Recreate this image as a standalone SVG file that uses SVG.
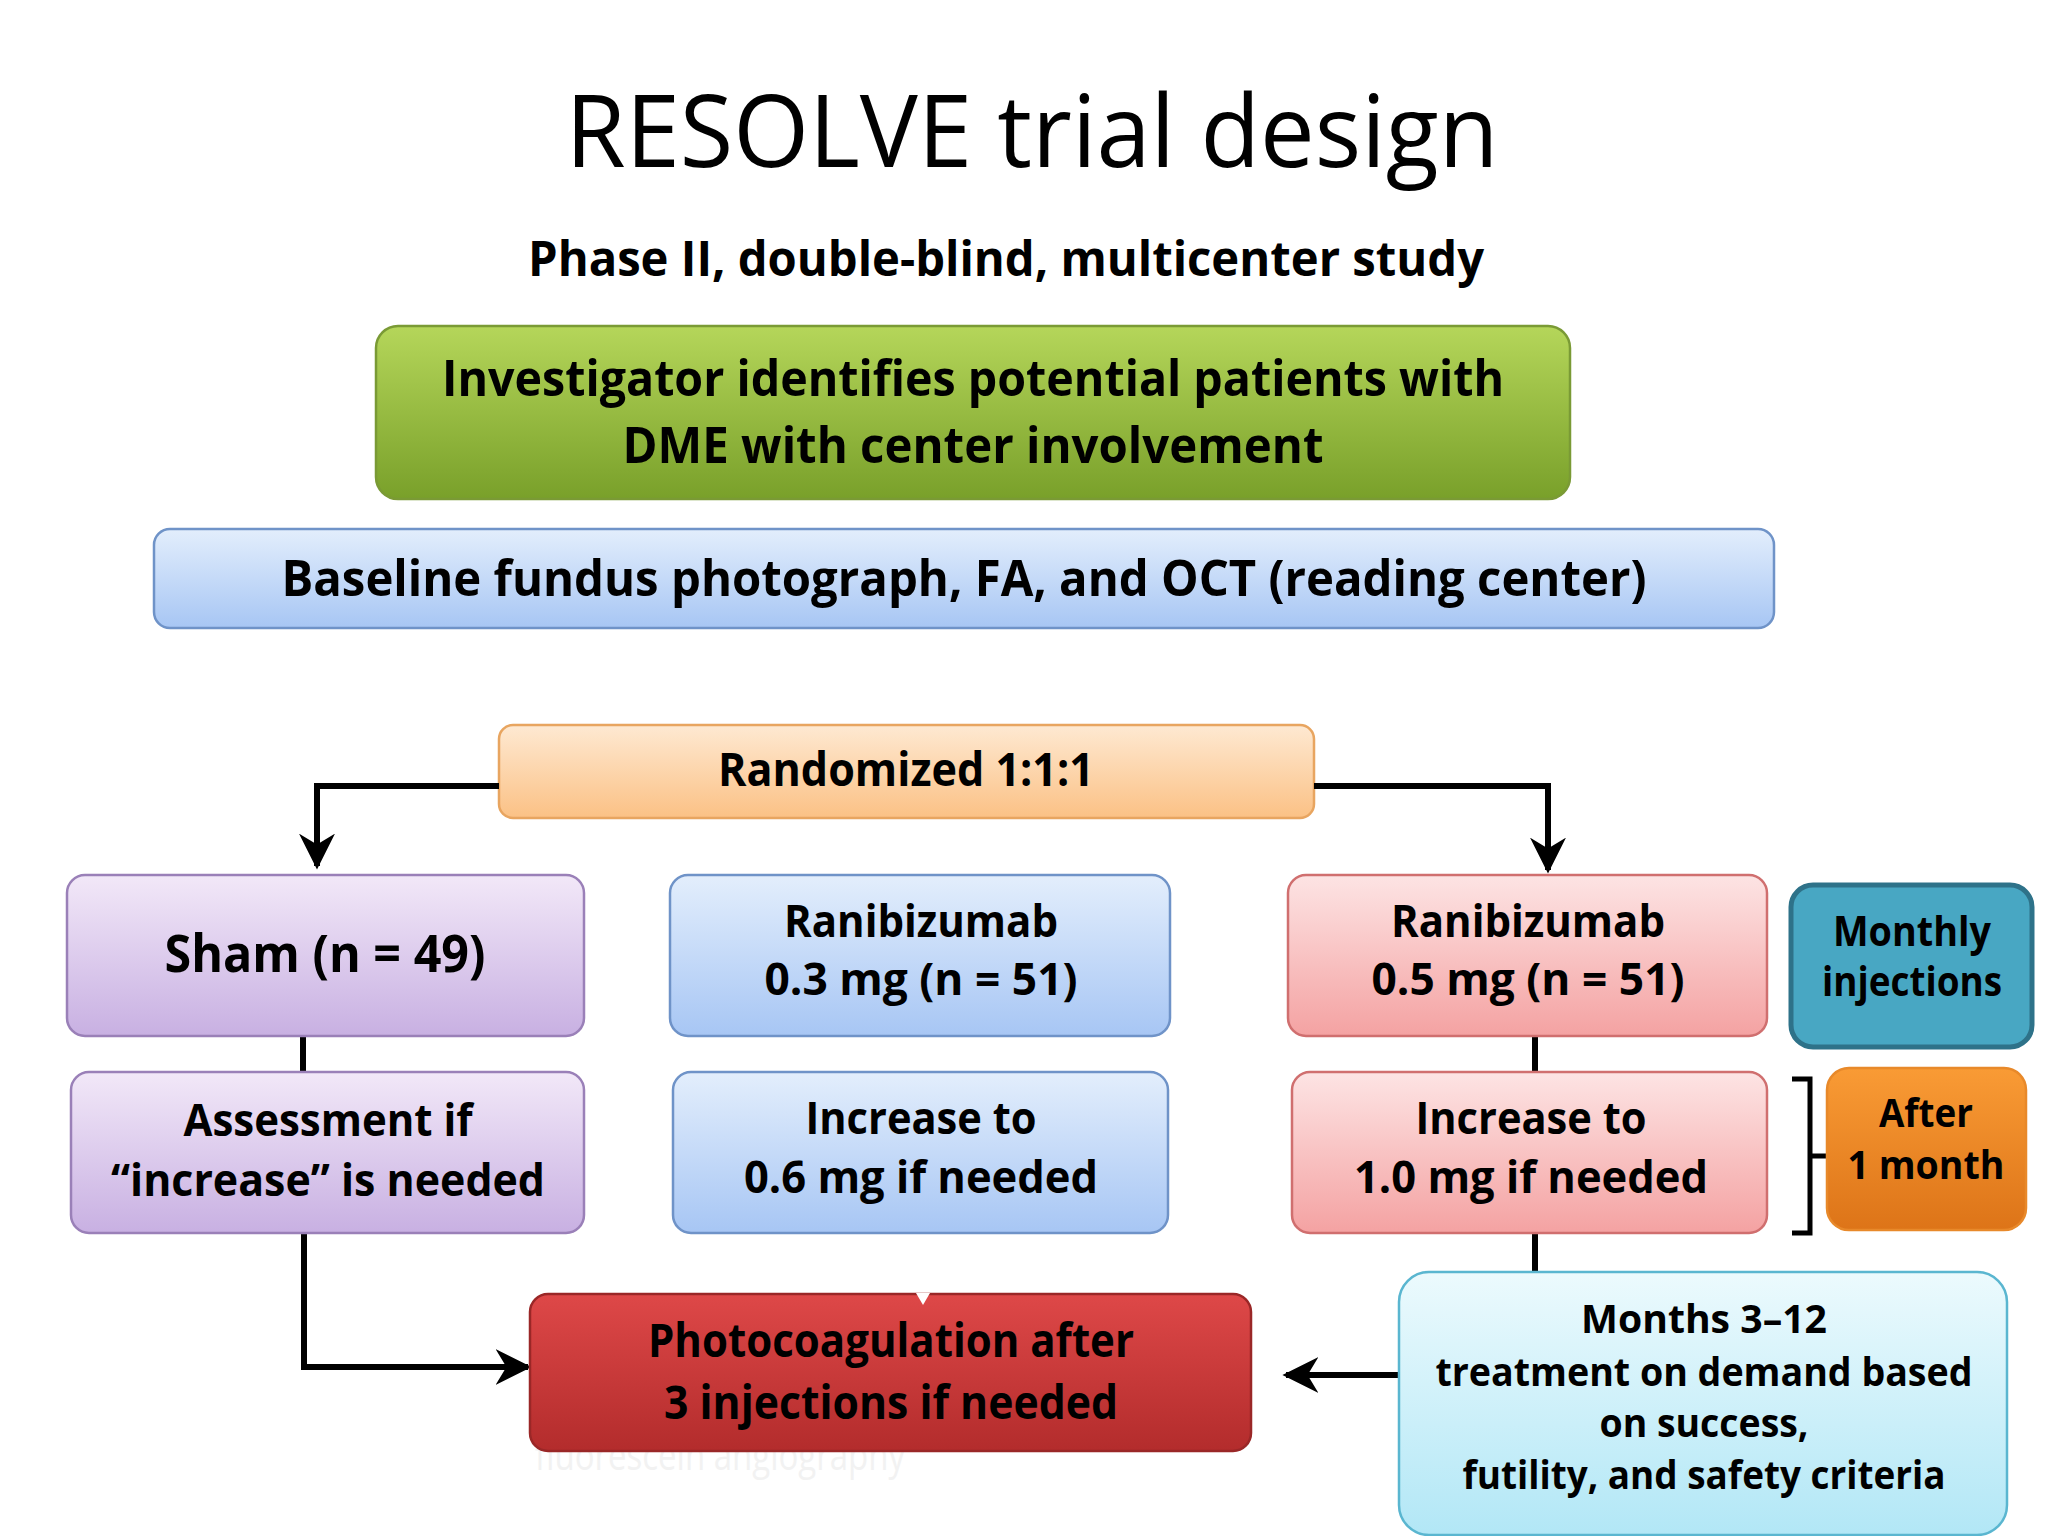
<svg xmlns="http://www.w3.org/2000/svg" width="2048" height="1536" viewBox="0 0 2048 1536">
<defs>
<linearGradient id="gG" x1="0" y1="0" x2="0" y2="1"><stop offset="0" stop-color="#b5d65a"/><stop offset="1" stop-color="#79a02a"/></linearGradient>
<linearGradient id="gB" x1="0" y1="0" x2="0" y2="1"><stop offset="0" stop-color="#e3eefc"/><stop offset="1" stop-color="#a7c6f4"/></linearGradient>
<linearGradient id="gO" x1="0" y1="0" x2="0" y2="1"><stop offset="0" stop-color="#fee9d2"/><stop offset="1" stop-color="#fbc185"/></linearGradient>
<linearGradient id="gP" x1="0" y1="0" x2="0" y2="1"><stop offset="0" stop-color="#f2e8f8"/><stop offset="1" stop-color="#c8b0e2"/></linearGradient>
<linearGradient id="gK" x1="0" y1="0" x2="0" y2="1"><stop offset="0" stop-color="#fde4e4"/><stop offset="1" stop-color="#f4a2a2"/></linearGradient>
<linearGradient id="gA" x1="0" y1="0" x2="0" y2="1"><stop offset="0" stop-color="#f99b35"/><stop offset="1" stop-color="#dd7418"/></linearGradient>
<linearGradient id="gR" x1="0" y1="0" x2="0" y2="1"><stop offset="0" stop-color="#de4848"/><stop offset="1" stop-color="#b32c2c"/></linearGradient>
<linearGradient id="gC" x1="0" y1="0" x2="0" y2="1"><stop offset="0" stop-color="#ecfafd"/><stop offset="1" stop-color="#b2e7f6"/></linearGradient>
<marker id="ah" viewBox="0 0 10 10" refX="9" refY="5" markerWidth="6" markerHeight="6" orient="auto" markerUnits="strokeWidth"><path d="M0,0 L10,5 L0,10 L3,5 Z" fill="#000"/></marker>
</defs>
<style>
text{font-family:"Open Sans","Liberation Sans",sans-serif;font-weight:bold;fill:#000;text-anchor:middle}
.b{stroke-width:2.5}
.c{fill:none;stroke:#000;stroke-width:6}
</style>
<rect width="2048" height="1536" fill="#fff"/>
<text x="1032" y="167" font-size="100" style="font-weight:normal" textLength="933" lengthAdjust="spacingAndGlyphs">RESOLVE trial design</text>
<text x="1006" y="276" font-size="48" textLength="956" lengthAdjust="spacingAndGlyphs">Phase II, double-blind, multicenter study</text>
<g id="screen"><rect x="376" y="326" width="1194" height="173" rx="22" fill="url(#gG)" stroke="#7a9a35" class="b"/>
<text x="973" y="396" font-size="50" textLength="1062" lengthAdjust="spacingAndGlyphs">Investigator identifies potential patients with</text>
<text x="973" y="463" font-size="50" textLength="701" lengthAdjust="spacingAndGlyphs">DME with center involvement</text></g>
<g id="baseline"><rect x="154" y="529" width="1620" height="99" rx="16" fill="url(#gB)" stroke="#6f93c8" class="b"/>
<text x="964" y="596" font-size="50" textLength="1365" lengthAdjust="spacingAndGlyphs">Baseline fundus photograph, FA, and OCT (reading center)</text></g>
<g id="random"><rect x="499" y="725" width="815" height="93" rx="14" fill="url(#gO)" stroke="#e8a560" class="b"/>
<text x="906" y="786" font-size="46" textLength="376" lengthAdjust="spacingAndGlyphs">Randomized 1:1:1</text></g>
<g id="connectors">
<polyline class="c" points="499,786 317,786 317,866" marker-end="url(#ah)"/>
<polyline class="c" points="1314,786 1548,786 1548,870" marker-end="url(#ah)"/>
<line class="c" x1="303" y1="1036" x2="303" y2="1072"/>
<line class="c" x1="1535" y1="1036" x2="1535" y2="1072"/>
<line class="c" x1="1535" y1="1233" x2="1535" y2="1272"/>
<polyline class="c" points="304,1233 304,1367 528,1367" marker-end="url(#ah)"/>
<line class="c" x1="1399" y1="1375" x2="1286" y2="1375" marker-end="url(#ah)"/>
<path d="M1792,1079 H1810 V1233 H1792 M1810,1156 H1828" fill="none" stroke="#000" stroke-width="5"/>
</g>
<g id="sham"><rect x="67" y="875" width="517" height="161" rx="18" fill="url(#gP)" stroke="#9a80b8" class="b"/>
<text x="325" y="972" font-size="52" textLength="321" lengthAdjust="spacingAndGlyphs">Sham (n = 49)</text></g>
<g id="r03"><rect x="670" y="875" width="500" height="161" rx="18" fill="url(#gB)" stroke="#6f93c8" class="b"/>
<text x="921" y="937" font-size="44" textLength="274" lengthAdjust="spacingAndGlyphs">Ranibizumab</text>
<text x="921" y="995" font-size="44" textLength="313" lengthAdjust="spacingAndGlyphs">0.3 mg (n = 51)</text></g>
<g id="r05"><rect x="1288" y="875" width="479" height="161" rx="18" fill="url(#gK)" stroke="#d06f6f" class="b"/>
<text x="1528" y="937" font-size="44" textLength="274" lengthAdjust="spacingAndGlyphs">Ranibizumab</text>
<text x="1528" y="995" font-size="44" textLength="313" lengthAdjust="spacingAndGlyphs">0.5 mg (n = 51)</text></g>
<g id="monthly"><rect x="1791" y="885" width="241" height="162" rx="22" fill="#48a7c3" stroke="#2e7289" stroke-width="5"/>
<text x="1912" y="946" font-size="42" textLength="158" lengthAdjust="spacingAndGlyphs">Monthly</text>
<text x="1912" y="996" font-size="42" textLength="180" lengthAdjust="spacingAndGlyphs">injections</text></g>
<g id="assess"><rect x="71" y="1072" width="513" height="161" rx="18" fill="url(#gP)" stroke="#9a80b8" class="b"/>
<text x="328" y="1136" font-size="44" textLength="289" lengthAdjust="spacingAndGlyphs">Assessment if</text>
<text x="328" y="1196" font-size="44" textLength="434" lengthAdjust="spacingAndGlyphs">“increase” is needed</text></g>
<g id="inc06"><rect x="673" y="1072" width="495" height="161" rx="18" fill="url(#gB)" stroke="#6f93c8" class="b"/>
<text x="921" y="1134" font-size="44" textLength="231" lengthAdjust="spacingAndGlyphs">Increase to</text>
<text x="921" y="1193" font-size="44" textLength="354" lengthAdjust="spacingAndGlyphs">0.6 mg if needed</text></g>
<g id="inc10"><rect x="1292" y="1072" width="475" height="161" rx="18" fill="url(#gK)" stroke="#d06f6f" class="b"/>
<text x="1531" y="1134" font-size="44" textLength="231" lengthAdjust="spacingAndGlyphs">Increase to</text>
<text x="1531" y="1193" font-size="44" textLength="354" lengthAdjust="spacingAndGlyphs">1.0 mg if needed</text></g>
<g id="after"><rect x="1827" y="1068" width="199" height="162" rx="22" fill="url(#gA)" stroke="#e8892a" class="b"/>
<text x="1926" y="1127" font-size="40" textLength="94" lengthAdjust="spacingAndGlyphs">After</text>
<text x="1926" y="1179" font-size="40" textLength="157" lengthAdjust="spacingAndGlyphs">1 month</text></g>
<g id="photo">
<text x="720" y="1470" font-size="40" style="font-weight:normal;fill:#f2f2f2" textLength="370" lengthAdjust="spacingAndGlyphs">fluorescein angiography</text>
<rect x="530" y="1294" width="721" height="157" rx="18" fill="url(#gR)" stroke="#9a2727" class="b"/>
<path d="M916,1293 L930,1293 L923,1305 Z" fill="#fff"/>
<text x="891" y="1357" font-size="47" textLength="486" lengthAdjust="spacingAndGlyphs">Photocoagulation after</text>
<text x="891" y="1419" font-size="47" textLength="454" lengthAdjust="spacingAndGlyphs">3 injections if needed</text></g>
<g id="months"><rect x="1399" y="1272" width="608" height="263" rx="30" fill="url(#gC)" stroke="#5ab6d0" class="b"/>
<text x="1704" y="1333" font-size="40" textLength="246" lengthAdjust="spacingAndGlyphs">Months 3–12</text>
<text x="1704" y="1386" font-size="40" textLength="537" lengthAdjust="spacingAndGlyphs">treatment on demand based</text>
<text x="1704" y="1437" font-size="40" textLength="209" lengthAdjust="spacingAndGlyphs">on success,</text>
<text x="1704" y="1489" font-size="40" textLength="483" lengthAdjust="spacingAndGlyphs">futility, and safety criteria</text></g>
</svg>
